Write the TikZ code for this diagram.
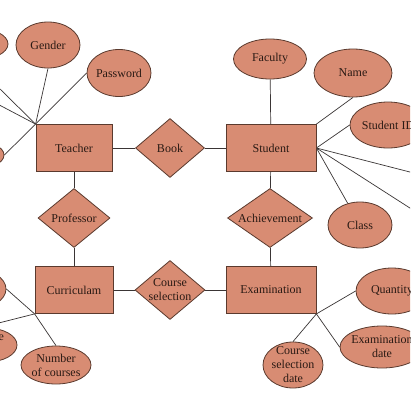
\documentclass[tikz,border=0pt]{standalone}
\usepackage{fontspec}
\setmainfont{Liberation Serif}
\usetikzlibrary{shapes.geometric,backgrounds}
\definecolor{fc}{HTML}{D88C73}
\definecolor{bd}{HTML}{5A3A2E}
\definecolor{ln}{HTML}{3A3535}
\definecolor{tc}{HTML}{2A1A14}
\tikzset{
  base/.style={draw=bd, fill=fc, line width=0.8pt, inner sep=0pt},
  ent/.style={base, rectangle, minimum width=#1, minimum height=47pt},
  attr/.style n args={2}{base, ellipse, minimum width=#1, minimum height=#2},
  rel/.style={base, diamond, aspect=1, minimum width=#1, minimum height=59pt},
  every label/.style={text=tc, font=\fontsize{12}{14}\selectfont, align=center, inner sep=0pt},
  conn/.style={draw=ln, line width=0.7pt}
}
\begin{document}
\begin{tikzpicture}[x=1pt,y=-1pt]
\useasboundingbox (0,0) rectangle (410,410);
\clip (0,0) rectangle (410,410);
% entities
\node[ent=76pt, label=center:Teacher] (t) at (74,148) {};
\node[ent=90pt, label=center:Student] (s) at (271,148) {};
\node[ent=78pt, label=center:Curriculam] (cu) at (74,290) {};
\node[ent=90pt, label=center:Examination] (ex) at (271,290) {};
% relations
\node[rel=69pt, label=center:Book] (bk) at (170,148) {};
\node[rel=72pt, label=center:Professor] (pr) at (74,218) {};
\node[rel=85pt, label=center:Achievement] (ac) at (270,218) {};
\node[rel=70pt, label={center:Course\\selection}] (cs) at (170,290) {};
% attributes of Teacher
\node[attr={64pt}{46pt}, label=center:Gender] (ge) at (48,45) {};
\node[attr={64pt}{47pt}, label=center:Password] (pw) at (119,73) {};
\node[attr={64pt}{32pt}] (tl1) at (-24,44) {};
\node[attr={64pt}{40pt}] (tl2) at (-70,20) {};
\node[attr={64pt}{40pt}] (tl3) at (-90,58) {};
\node[attr={64pt}{30pt}] (tl4) at (-28,155) {};
% attributes of Student
\node[attr={73pt}{40pt}, label=center:Faculty] (fa) at (270,59) {};
\node[attr={78pt}{48pt}, label=center:Name] (na) at (353,73) {};
\node[attr={76pt}{46pt}, label=center:Student ID] (sid) at (388,125) {};
\node[attr={64pt}{46pt}, label=center:Class] (cl) at (360,225) {};
\node[attr={70pt}{40pt}] (sr1) at (480,190) {};
\node[attr={70pt}{40pt}] (sr2) at (480,253) {};
% attributes of Curriculam
\node[attr={64pt}{40pt}] (cl1) at (-26,289) {};
\node[attr={80pt}{40pt}] (cl2) at (-100,348) {};
\node[attr={60pt}{34pt}, label={center:Course\\type}] (cl3) at (-13,345) {};
\node[attr={70pt}{38pt}, label={center:Number\\of courses}] (noc) at (56,365) {};
% attributes of Examination
\node[attr={72pt}{46pt}, label=center:Quantity] (qu) at (392,291) {};
\node[attr={84pt}{42pt}, label={center:Examination\\date}] (ed) at (382,347) {};
\node[attr={60pt}{46pt}, label={center:Course\\selection\\date}] (csd) at (293,365) {};
% connectors
\begin{scope}[on background layer]
\fill[white] (0,0) rectangle (410,410);
\clip (0,0) rectangle (410,410);
\draw[conn] (t) -- (bk);
\draw[conn] (bk) -- (s);
\draw[conn] (t) -- (pr);
\draw[conn] (pr) -- (cu);
\draw[conn] (cu) -- (cs);
\draw[conn] (cs) -- (ex);
\draw[conn] (s) -- (ac);
\draw[conn] (ac) -- (ex);
\draw[conn] (t.north west) -- (ge.south);
\draw[conn] (t.north west) -- (pw.west);
\draw[conn] (t.north west) -- (tl2);
\draw[conn] (t.north west) -- (tl3);
\draw[conn] (t.north west) -- (tl4.east);
\draw[conn] (fa) -- (s);
\draw[conn] (s.north east) -- (na.south);
\draw[conn] (s.east) -- (sid.west);
\draw[conn] (s.east) -- (sr1);
\draw[conn] (s.east) -- (sr2);
\draw[conn] (s.east) -- (cl);
\draw[conn] (cu.south west) -- (cl1.east);
\draw[conn] (cu.south west) -- (cl2);
\draw[conn] (cu.south west) -- (noc.north);
\draw[conn] (ex.south east) -- (qu.west);
\draw[conn] (ex.south east) -- (ed.west);
\draw[conn] (ex.south east) -- (csd.north);
\end{scope}
\end{tikzpicture}
\end{document}
